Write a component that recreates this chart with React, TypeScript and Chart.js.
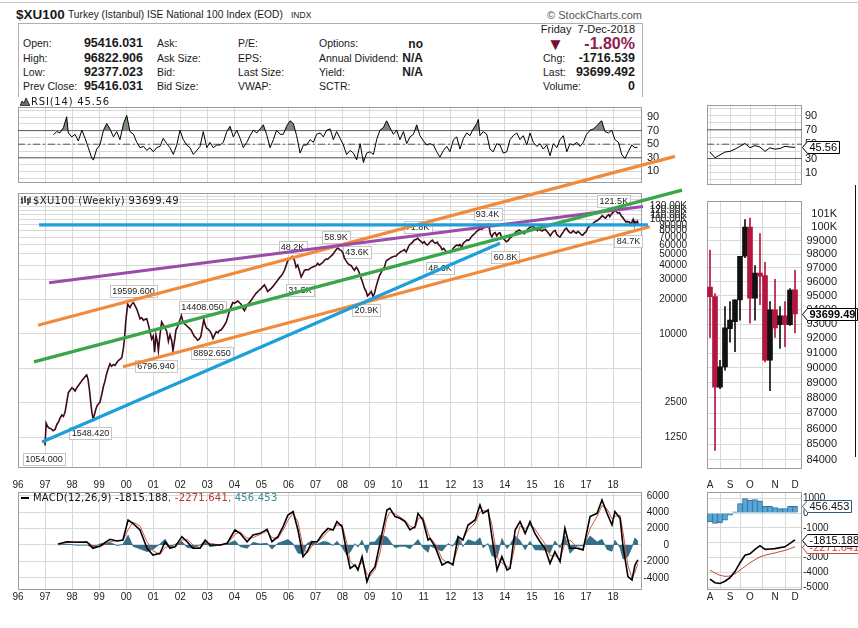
import React, { useEffect, useRef } from "react";
import { Chart, registerables } from "chart.js";

Chart.register(...registerables);

const SANS = "'Liberation Sans', Arial, Helvetica, sans-serif";
const VERD = "'DejaVu Sans', Verdana, sans-serif";
Chart.defaults.font.family = SANS;
Chart.defaults.color = "#222";

// ======================= DATA =======================
const yearTicks = [1996, 1997, 1998, 1999, 2000, 2001, 2002, 2003, 2004, 2005, 2006, 2007, 2008, 2009, 2010, 2011, 2012, 2013, 2014, 2015, 2016, 2017, 2018];
const yearTickLabels = ["96", "97", "98", "99", "00", "01", "02", "03", "04", "05", "06", "07", "08", "09", "10", "11", "12", "13", "14", "15", "16", "17", "18"];

// weekly close [decimal year, close]
const priceSeries = [
  [1997.00, 1054], [1997.04, 1650], [1997.09, 1550], [1997.15, 1500], [1997.22, 1480], [1997.30, 1420], [1997.37, 1460], [1997.44, 1620], [1997.50, 1700], [1997.55, 1820],
  [1997.62, 1950], [1997.68, 1900], [1997.74, 2070], [1997.80, 2500], [1997.86, 3060], [1997.92, 3200], [1997.99, 3370], [1998.05, 3300], [1998.11, 3160], [1998.18, 3400],
  [1998.24, 3550], [1998.30, 3710], [1998.36, 3900], [1998.42, 4050], [1998.48, 4230], [1998.54, 4370], [1998.59, 4000], [1998.64, 3260], [1998.69, 2500], [1998.73, 2070],
  [1998.78, 1800], [1998.82, 1940], [1998.88, 2200], [1998.93, 2370], [1998.98, 2450], [1999.03, 2520], [1999.09, 2900], [1999.16, 3480], [1999.22, 3900], [1999.28, 4510],
  [1999.34, 5000], [1999.40, 5480], [1999.46, 5200], [1999.53, 5400], [1999.59, 5300], [1999.65, 5600], [1999.71, 5840], [1999.78, 6000], [1999.84, 6230], [1999.90, 7570],
  [1999.94, 9200], [1999.98, 12500], [2000.02, 15400], [2000.06, 18200], [2000.10, 17500], [2000.14, 17000], [2000.20, 18200], [2000.27, 18760], [2000.33, 17600], [2000.39, 16470],
  [2000.45, 15000], [2000.51, 13560], [2000.57, 13800], [2000.64, 13130], [2000.70, 13400], [2000.76, 13560], [2000.82, 12000], [2000.88, 10450], [2000.94, 9000], [2001.00, 9600],
  [2001.05, 6900], [2001.10, 9800], [2001.15, 8600], [2001.19, 7100], [2001.25, 9800], [2001.31, 12700], [2001.37, 12000], [2001.44, 11160], [2001.50, 10500], [2001.56, 8600],
  [2001.62, 9800], [2001.68, 8800], [2001.73, 7100], [2001.79, 8800], [2001.84, 10800], [2001.90, 11500], [2001.96, 12700], [2002.04, 14400], [2002.10, 12800], [2002.16, 12200],
  [2002.22, 11900], [2002.28, 11500], [2002.34, 11160], [2002.40, 10800], [2002.46, 10100], [2002.52, 9500], [2002.58, 9200], [2002.64, 8800], [2002.70, 9000], [2002.76, 9500],
  [2002.82, 11500], [2002.87, 13400], [2002.92, 12000], [2002.97, 11200], [2003.03, 11000], [2003.09, 10600], [2003.15, 10000], [2003.21, 9100], [2003.27, 9800], [2003.33, 10450],
  [2003.39, 10200], [2003.45, 10700], [2003.51, 10800], [2003.57, 11300], [2003.63, 11900], [2003.70, 12700], [2003.76, 14200], [2003.82, 15950], [2003.88, 17300], [2003.94, 18760],
  [2004.00, 18500], [2004.07, 19000], [2004.13, 19360], [2004.19, 18700], [2004.25, 18170], [2004.31, 16800], [2004.37, 15950], [2004.43, 17000], [2004.50, 18170], [2004.56, 18900],
  [2004.62, 19600], [2004.68, 20640], [2004.74, 21600], [2004.80, 22600], [2004.87, 23500], [2004.93, 24300], [2004.99, 25000], [2005.05, 25900], [2005.11, 26800], [2005.17, 25200],
  [2005.23, 23520], [2005.29, 24100], [2005.36, 25000], [2005.42, 25900], [2005.48, 27000], [2005.54, 28200], [2005.60, 29500], [2005.66, 30800], [2005.72, 32000], [2005.79, 33600],
  [2005.85, 36000], [2005.91, 39500], [2005.97, 43500], [2006.03, 44800], [2006.10, 46500], [2006.15, 47500], [2006.22, 44000], [2006.28, 38300], [2006.34, 40000], [2006.40, 36000],
  [2006.47, 31500], [2006.53, 33500], [2006.59, 35870], [2006.65, 36500], [2006.72, 36200], [2006.78, 37040], [2006.84, 38000], [2006.90, 38500], [2006.96, 39000], [2007.02, 39500],
  [2007.08, 41500], [2007.14, 40000], [2007.21, 41200], [2007.27, 42100], [2007.33, 44000], [2007.39, 45300], [2007.45, 44800], [2007.51, 46500], [2007.57, 47800], [2007.64, 49550],
  [2007.70, 52000], [2007.76, 54500], [2007.82, 56500], [2007.89, 54500], [2007.95, 53500], [2008.01, 51150], [2008.07, 46000], [2008.13, 43500], [2008.19, 41500], [2008.25, 40200],
  [2008.32, 39500], [2008.38, 37500], [2008.44, 36000], [2008.51, 38300], [2008.57, 36500], [2008.63, 33600], [2008.69, 30500], [2008.75, 27700], [2008.81, 25000], [2008.87, 23520],
  [2008.92, 21500], [2009.00, 22500], [2009.06, 23500], [2009.12, 21350], [2009.18, 22600], [2009.24, 25900], [2009.30, 29000], [2009.37, 32500], [2009.43, 34500], [2009.49, 37040],
  [2009.55, 38500], [2009.61, 43500], [2009.67, 44500], [2009.74, 45500], [2009.80, 46500], [2009.86, 47200], [2009.92, 47800], [2009.98, 48000], [2010.04, 50000], [2010.10, 51150],
  [2010.16, 52500], [2010.22, 53200], [2010.28, 54500], [2010.35, 52000], [2010.41, 56000], [2010.47, 60000], [2010.53, 61500], [2010.59, 63500], [2010.65, 66300], [2010.71, 67000],
  [2010.78, 68500], [2010.84, 66000], [2010.90, 64500], [2010.96, 62100], [2011.02, 64000], [2011.08, 61000], [2011.14, 59800], [2011.20, 62000], [2011.26, 64500], [2011.32, 66000],
  [2011.38, 63000], [2011.44, 62000], [2011.50, 63500], [2011.56, 60000], [2011.62, 58200], [2011.68, 54500], [2011.74, 56000], [2011.80, 53500], [2011.86, 51150], [2011.92, 52000],
  [2011.98, 51500], [2012.04, 53500], [2012.10, 56500], [2012.16, 58200], [2012.22, 60000], [2012.28, 59000], [2012.34, 60500], [2012.40, 57000], [2012.46, 62100], [2012.53, 64000],
  [2012.59, 66300], [2012.65, 65500], [2012.71, 68000], [2012.77, 71000], [2012.83, 73500], [2012.89, 75500], [2012.95, 78500], [2013.01, 80500], [2013.08, 83000], [2013.14, 82000],
  [2013.20, 84000], [2013.26, 86000], [2013.32, 89500], [2013.38, 91000], [2013.42, 86000], [2013.46, 75000], [2013.52, 70500], [2013.58, 75500], [2013.64, 77000], [2013.70, 72000],
  [2013.76, 75500], [2013.82, 76500], [2013.88, 70500], [2013.94, 68500], [2014.00, 66000], [2014.06, 64100], [2014.12, 65500], [2014.18, 68500], [2014.24, 70500], [2014.30, 73500],
  [2014.36, 75500], [2014.42, 78500], [2014.48, 80000], [2014.54, 81000], [2014.60, 78000], [2014.66, 76000], [2014.72, 75000], [2014.78, 79000], [2014.84, 82000], [2014.90, 84500],
  [2014.96, 86000], [2015.02, 87500], [2015.08, 85500], [2015.14, 83000], [2015.20, 80000], [2015.26, 82500], [2015.32, 81000], [2015.38, 79500], [2015.44, 81500], [2015.50, 82000],
  [2015.56, 78500], [2015.62, 75500], [2015.68, 72000], [2015.74, 76000], [2015.80, 79000], [2015.86, 80500], [2015.92, 74000], [2015.98, 71500], [2016.04, 70500], [2016.10, 74500],
  [2016.16, 78000], [2016.22, 82000], [2016.28, 84000], [2016.34, 79500], [2016.40, 77000], [2016.46, 76500], [2016.52, 80000], [2016.58, 77500], [2016.64, 76000], [2016.70, 78500],
  [2016.76, 77000], [2016.82, 74000], [2016.88, 73000], [2016.94, 76000], [2017.00, 78000], [2017.06, 84000], [2017.12, 87500], [2017.18, 89000], [2017.24, 91500], [2017.30, 94500],
  [2017.36, 96500], [2017.42, 98000], [2017.48, 101000], [2017.54, 104000], [2017.60, 108000], [2017.66, 105000], [2017.72, 103000], [2017.78, 107500], [2017.84, 110500], [2017.88, 106000],
  [2017.94, 111500], [2018.00, 115500], [2018.04, 118500], [2018.08, 120500], [2018.12, 117000], [2018.18, 114000], [2018.24, 115000], [2018.30, 108000], [2018.36, 104000], [2018.42, 99000],
  [2018.48, 95000], [2018.52, 96500], [2018.56, 95500], [2018.59, 95600], [2018.61, 94930], [2018.63, 88700], [2018.65, 90060], [2018.67, 92730], [2018.68, 93270], [2018.70, 94700],
  [2018.72, 97840], [2018.74, 100000], [2018.76, 94810], [2018.78, 96610], [2018.80, 96390], [2018.82, 90520], [2018.84, 94000], [2018.86, 92730], [2018.88, 93580], [2018.89, 92960],
  [2018.91, 95390], [2018.93, 93699.49],
];

const priceAxisTicks = [1250, 2500, 5000, 10000, 20000, 30000, 40000, 50000, 60000, 70000, 80000, 90000, 100000, 110000, 120000, 130000, 140000, 150000, 160000];
const priceAxisLabels = ["1250", "2500", "", "10000", "20000", "30000", "40000", "50000", "60000", "70000", "80000", "90000", "100.00K", "110.00K", "120.00K", "130.00K", "", "", ""];

// trend lines drawn on the log chart: [start year, start value] -> [end year, end value]
const trendStartYear = [1996.78, 1996.89, 1996.59, 1997.15, 1996.74, 1999.88];
const trendStartValue = [89900, 1134, 5690, 28000, 11900, 5160];
const trendEndYear = [2019.29, 2013.82, 2020.55, 2019.11, 2020.29, 2019.36];
const trendEndValue = [89900, 62100, 180900, 130000, 357000, 86500];

// swing high / low annotations
const annoTexts = ["1054.000", "1548.420", "19599.600", "14408.050", "8892.650", "6796.940", "48.2K", "58.9K", "43.6K", "31.5K", "20.9K", "71.8K", "48.6K", "93.4K", "60.8K", "121.5K", "84.7K"];
const annoYears = [1996.96, 1998.68, 2000.27, 2002.82, 2003.17, 2001.10, 2006.15, 2007.76, 2008.53, 2006.43, 2008.88, 2010.77, 2011.60, 2013.36, 2014.02, 2018.03, 2018.57];
const annoValues = [1054, 1750, 19600, 14408, 8893, 6797, 48200, 58900, 43600, 31500, 20900, 71800, 48600, 93400, 60800, 121500, 84700];
const annoKinds = ["low", "low", "high", "high", "low", "low", "high", "high", "high", "low", "low", "high", "low", "high", "low", "high", "low"];

// RSI(14) [decimal year, value]
const rsiSeries = [
  [1997.31, 63.8], [1997.43, 68.6], [1997.55, 66.6], [1997.68, 74.5], [1997.80, 90.3], [1997.86, 66.6], [1997.99, 60.7], [1998.11, 64.6], [1998.23, 54.7], [1998.36, 70.6],
  [1998.48, 58.7], [1998.60, 44.9], [1998.73, 29.0], [1998.79, 27.0], [1998.91, 42.9], [1999.03, 48.8], [1999.16, 70.6], [1999.28, 80.4], [1999.40, 72.5], [1999.53, 60.7],
  [1999.65, 68.6], [1999.77, 56.7], [1999.90, 80.4], [2000.02, 92.3], [2000.14, 68.6], [2000.27, 64.6], [2000.39, 52.8], [2000.51, 44.9], [2000.64, 46.8], [2000.76, 40.9],
  [2000.88, 44.9], [2001.00, 38.9], [2001.13, 44.9], [2001.25, 46.8], [2001.37, 58.7], [2001.50, 50.8], [2001.62, 44.9], [2001.74, 35.0], [2001.87, 48.8], [2001.99, 70.6],
  [2002.11, 56.7], [2002.24, 48.8], [2002.36, 44.9], [2002.48, 35.0], [2002.61, 40.9], [2002.73, 46.8], [2002.85, 68.6], [2002.98, 44.9], [2003.10, 52.8], [2003.22, 44.9],
  [2003.35, 48.8], [2003.47, 48.8], [2003.59, 52.8], [2003.72, 68.6], [2003.84, 76.5], [2003.96, 60.7], [2004.09, 70.6], [2004.21, 58.7], [2004.33, 44.9], [2004.46, 52.8],
  [2004.58, 62.6], [2004.70, 70.6], [2004.83, 66.6], [2004.95, 72.5], [2005.07, 78.5], [2005.19, 64.6], [2005.32, 44.9], [2005.44, 56.7], [2005.56, 70.6], [2005.69, 64.6],
  [2005.81, 64.6], [2005.93, 76.5], [2006.06, 84.4], [2006.18, 80.4], [2006.30, 62.6], [2006.43, 37.0], [2006.55, 48.8], [2006.67, 48.8], [2006.80, 56.7], [2006.92, 52.8],
  [2007.04, 64.6], [2007.17, 66.6], [2007.29, 60.7], [2007.41, 70.6], [2007.54, 72.5], [2007.66, 56.7], [2007.78, 68.6], [2007.91, 58.7], [2008.03, 48.8], [2008.15, 35.0],
  [2008.28, 40.9], [2008.40, 37.0], [2008.52, 27.0], [2008.65, 50.8], [2008.77, 23.1], [2008.89, 37.0], [2009.01, 38.9], [2009.14, 35.0], [2009.26, 56.7], [2009.38, 70.6],
  [2009.51, 74.5], [2009.63, 84.4], [2009.75, 74.5], [2009.88, 64.6], [2010.00, 70.6], [2010.12, 56.7], [2010.25, 68.6], [2010.37, 50.8], [2010.49, 60.7], [2010.62, 64.6],
  [2010.74, 78.5], [2010.86, 62.6], [2010.99, 54.7], [2011.11, 48.8], [2011.23, 50.8], [2011.36, 48.8], [2011.48, 38.9], [2011.60, 31.0], [2011.73, 40.9], [2011.85, 46.8],
  [2011.97, 38.9], [2012.10, 56.7], [2012.22, 60.7], [2012.34, 42.9], [2012.47, 58.7], [2012.59, 66.6], [2012.71, 62.6], [2012.83, 72.5], [2012.96, 80.4], [2013.02, 86.4],
  [2013.08, 62.6], [2013.20, 68.6], [2013.33, 64.6], [2013.45, 42.9], [2013.57, 38.9], [2013.70, 50.8], [2013.82, 48.8], [2013.94, 37.0], [2014.07, 38.9], [2014.19, 56.7],
  [2014.31, 62.6], [2014.44, 66.6], [2014.56, 56.7], [2014.68, 62.6], [2014.81, 48.8], [2014.93, 66.6], [2015.05, 52.8], [2015.18, 46.8], [2015.30, 50.8], [2015.42, 42.9],
  [2015.55, 48.8], [2015.67, 33.0], [2015.79, 50.8], [2015.92, 44.9], [2016.04, 56.7], [2016.16, 62.6], [2016.29, 38.9], [2016.41, 50.8], [2016.53, 48.8], [2016.66, 52.8],
  [2016.78, 46.8], [2016.90, 52.8], [2017.02, 64.6], [2017.15, 70.6], [2017.27, 72.5], [2017.39, 76.5], [2017.52, 82.5], [2017.58, 84.4], [2017.70, 68.6], [2017.83, 66.6],
  [2017.95, 70.6], [2018.07, 56.7], [2018.20, 52.8], [2018.32, 35.0], [2018.44, 29.0], [2018.56, 38.9], [2018.69, 48.8], [2018.81, 44.9], [2018.90, 45.56],
];
const rsiTicks = [0, 10, 20, 30, 40, 50, 60, 70, 80, 90, 100];
const rsiTickLabels = ["", "10", "", "30", "", "50", "", "70", "", "90", ""];
const rsiLevels = [70, 50, 30];

// MACD(12,26,9) [decimal year, macd, signal, histogram]
const macdSeries = [
  [1997.48, 120, 100, 20], [1997.81, 400, 300, 100], [1998.18, 330, 350, -20], [1998.55, 370, 380, -10], [1998.77, -400, -100, -300],
  [1999.03, -120, -250, 130], [1999.40, 690, 400, 290], [1999.66, 490, 550, -60], [1999.88, 610, 550, 60], [2000.07, 3050, 1850, 1200],
  [2000.25, 2640, 2800, -160], [2000.51, 1830, 2300, -470], [2000.77, -400, 400, -800], [2000.99, -1220, -700, -520], [2001.25, -1020, -1150, 130],
  [2001.44, 400, -300, 700], [2001.62, -400, -100, -300], [2001.81, -200, -300, 100], [2002.06, 1020, 600, 420], [2002.25, 400, 700, -300],
  [2002.47, -400, 0, -400], [2002.73, -400, -400, 0], [2002.92, 610, 200, 410], [2003.10, 0, 200, -200], [2003.47, 0, 0, 0],
  [2003.73, 200, 100, 100], [2004.02, 1830, 1300, 530], [2004.21, 1420, 1600, -180], [2004.47, 400, 800, -400], [2004.69, 1220, 900, 320],
  [2004.95, 1420, 1300, 120], [2005.21, 1910, 1700, 210], [2005.39, 400, 900, -500], [2005.61, 1020, 800, 220], [2005.80, 2240, 1800, 440],
  [2005.98, 3660, 3000, 660], [2006.17, 4070, 3900, 170], [2006.35, 1830, 2800, -970], [2006.54, -1420, -300, -1120], [2006.69, -810, -1000, 190],
  [2006.87, 400, -100, 500], [2007.06, 400, 300, 100], [2007.28, 1420, 1000, 420], [2007.46, 2030, 1700, 330], [2007.65, 1830, 1900, -70],
  [2007.79, 2850, 2400, 450], [2007.98, 2240, 2500, -260], [2008.16, -1020, 200, -1220], [2008.28, -2850, -2000, -850], [2008.46, -2440, -2600, 160],
  [2008.57, -3050, -2800, -250], [2008.72, -1420, -2000, 580], [2008.90, -4470, -3500, -970], [2009.01, -3460, -3800, 340], [2009.20, -2640, -3000, 360],
  [2009.38, 200, -1000, 1200], [2009.64, 4270, 3300, 970], [2009.75, 4470, 4000, 470], [2009.94, 3460, 3800, -340], [2010.12, 3250, 3400, -150],
  [2010.31, 2850, 3000, -150], [2010.49, 1830, 2300, -470], [2010.68, 2240, 2000, 240], [2010.79, 3860, 3200, 660], [2010.97, 3050, 3400, -350],
  [2011.16, 610, 1500, -890], [2011.23, 810, 900, -90], [2011.42, -200, 200, -400], [2011.68, -2440, -1700, -740], [2011.90, -2030, -2200, 170],
  [2012.08, -2440, -2300, -140], [2012.27, 1020, -200, 1000], [2012.45, 610, 800, -190], [2012.64, 2440, 1800, 640], [2012.90, 3050, 2700, 350],
  [2013.08, 4880, 4000, 880], [2013.19, 3860, 4200, -340], [2013.38, 4270, 4100, 170], [2013.52, 1020, 2500, -1300], [2013.71, -3050, -1500, -1550],
  [2013.89, -1420, -2200, 780], [2014.08, -3050, -2600, -450], [2014.19, -2850, -2900, 50], [2014.38, 1830, 0, 1100], [2014.56, 2850, 2300, 550],
  [2014.75, 1420, 2000, -580], [2014.93, 2850, 2400, 450], [2015.11, 1420, 2000, -580], [2015.30, 400, 1000, -600], [2015.48, -400, 200, -600],
  [2015.67, -2240, -1300, -940], [2015.85, -810, -1300, 490], [2016.04, -2030, -1700, -330], [2016.22, 2030, 200, 1100], [2016.41, -400, 600, -1000],
  [2016.67, -400, -300, -100], [2016.89, -610, -500, -110], [2017.15, 3460, 2000, 1100], [2017.41, 3860, 3500, 360], [2017.59, 5490, 4800, 690],
  [2017.78, 3860, 4400, -540], [2017.96, 2440, 3200, -760], [2018.07, 4070, 3500, 570], [2018.26, 3250, 3600, -350], [2018.37, -200, 1500, -1700],
  [2018.55, -3860, -2500, -1400], [2018.70, -4270, -4000, -270], [2018.81, -2440, -3300, 860], [2018.92, -1815.188, -2271.641, 456.453],
];
const macdTicks = [-4000, -2000, 0, 2000, 4000, 6000];

// last 18 weeks (side panels)
const sideWeeks = ["10-Aug", "17-Aug", "24-Aug", "31-Aug", "7-Sep", "14-Sep", "21-Sep", "28-Sep", "5-Oct", "12-Oct", "19-Oct", "26-Oct", "2-Nov", "9-Nov", "16-Nov", "23-Nov", "30-Nov", "7-Dec"];
const sideOpen = [95600, 94930, 88700, 90060, 92670, 93170, 94700, 97840, 100000, 94810, 96610, 96430, 90520, 94000, 92960, 93580, 92960, 95416.031];
const sideHigh = [98300, 95150, 90500, 94230, 94580, 94700, 97840, 100560, 100670, 97160, 99520, 97390, 94580, 96170, 94230, 94580, 95500, 96822.906];
const sideLow = [92070, 84600, 88600, 89850, 91740, 91100, 93270, 97730, 93060, 93270, 94350, 90400, 88480, 92070, 91320, 91430, 92900, 92377.023];
const sideClose = [94930, 88700, 90060, 92730, 93270, 94700, 97840, 100000, 94810, 96610, 96390, 90520, 94000, 92730, 93580, 92960, 95390, 93699.492];
const sideMonthIdx = [0, 4, 8, 13, 17];
const sideMonthLabels = ["A", "S", "O", "N", "D"];
const sidePriceTicks = [84000, 85000, 86000, 87000, 88000, 89000, 90000, 91000, 92000, 93000, 94000, 95000, 96000, 97000, 98000, 99000, 100000, 101000];
const sideRsi = [39, 31, 35, 39, 40, 43, 47, 51, 45, 48, 46, 40, 45, 43, 44, 47, 46, 45.56];
const sideMacd = [-4450, -4700, -4750, -4600, -4350, -3950, -3350, -2850, -2750, -2450, -2200, -2450, -2420, -2400, -2330, -2280, -2050, -1815.188];
const sideSignal = [-3850, -4050, -4200, -4270, -4250, -4100, -3850, -3600, -3350, -3150, -2950, -2850, -2760, -2690, -2600, -2520, -2400, -2271.641];
const sideHist = [-600, -700, -660, -480, -150, 80, 640, 980, 870, 910, 820, 460, 460, 370, 300, 300, 460, 456.453];
const sideMacdTicks = [-5000, -4000, -3000, -2000, -1000, 0, 1000];

// ======================= STYLE / LAYOUT =======================
const GRID = "#d8d8d8";
const FRAME = "#9c9c9c";
const X_MIN = 1996;
const X_MAX = 2019.07;
const SIDE_MIN = -0.6;
const SIDE_MAX = 18.4;
const TREND_COLORS = ["#1f9fd8", "#1f9fd8", "#3aa64a", "#9b4ca8", "#f08a3c", "#f08a3c"];
const RSI_FILL = "#7b8c78";
const RED = "#b3163e";

const framePlugin = {
  id: "frame",
  beforeDatasetsDraw(chart: any) {
    const { ctx, chartArea: a } = chart;
    ctx.save();
    ctx.strokeStyle = FRAME;
    ctx.lineWidth = 1;
    const l = Math.round(a.left) + 0.5;
    const t = Math.round(a.top) + 0.5;
    const r = Math.round(a.right) - 0.5;
    const b = Math.round(a.bottom) - 0.5;
    ctx.strokeRect(l, t, r - l, b - t);
    ctx.restore();
  },
};

function tagPlugin(items: any[]) {
  return {
    id: "tags",
    afterDraw(chart: any) {
      const { ctx, chartArea: a, scales } = chart;
      items.forEach((it) => {
        const size = it.size || 11;
        const y = Math.round(scales.y.getPixelForValue(it.value)) + 0.5;
        const x = Math.round(a.right) + 0.5;
        ctx.save();
        ctx.font = `${it.bold ? "bold " : ""}${size}px ${SANS}`;
        const w = Math.round(ctx.measureText(it.text).width + 4);
        const h = size + 1;
        ctx.beginPath();
        ctx.moveTo(x, y);
        ctx.lineTo(x + 5, y - h / 2);
        ctx.lineTo(x + 5 + w, y - h / 2);
        ctx.lineTo(x + 5 + w, y + h / 2);
        ctx.lineTo(x + 5, y + h / 2);
        ctx.closePath();
        ctx.fillStyle = "#fff";
        ctx.fill();
        ctx.strokeStyle = it.border;
        ctx.lineWidth = 1;
        ctx.stroke();
        ctx.fillStyle = it.color;
        ctx.textAlign = "left";
        ctx.textBaseline = "middle";
        ctx.fillText(it.text, x + 7, y + 0.5);
        ctx.restore();
      });
    },
  };
}

const annoPlugin = {
  id: "annos",
  beforeDatasetsDraw(chart: any) {
    const { ctx, scales } = chart;
    ctx.save();
    ctx.font = `9px ${SANS}`;
    ctx.textAlign = "center";
    ctx.textBaseline = "middle";
    annoTexts.forEach((t, i) => {
      const cx = scales.x.getPixelForValue(annoYears[i]);
      const cy = scales.y.getPixelForValue(annoValues[i]) + (annoKinds[i] === "high" ? -9 : 13);
      const w = Math.round(ctx.measureText(t).width + 4);
      const h = 12;
      const l = Math.round(cx - w / 2) + 0.5;
      const tp = Math.round(cy - h / 2) + 0.5;
      ctx.fillStyle = "#fff";
      ctx.fillRect(l, tp, w, h);
      ctx.strokeStyle = "#c6c6c6";
      ctx.lineWidth = 1;
      ctx.strokeRect(l, tp, w, h);
      ctx.fillStyle = "#1a1a1a";
      ctx.fillText(t, cx, cy + 0.5);
    });
    ctx.restore();
  },
};

function baseOptions(padding: any) {
  return {
    responsive: false,
    maintainAspectRatio: false,
    animation: false,
    devicePixelRatio: 1,
    events: [],
    layout: { padding },
    plugins: { legend: { display: false }, tooltip: { enabled: false } },
  };
}

function yearAxis(showLabels: boolean, position: string, pad: number, drawGrid: boolean) {
  return {
    type: "linear",
    position,
    min: X_MIN,
    max: X_MAX,
    offset: false,
    afterBuildTicks: (s: any) => {
      s.ticks = yearTicks.map((v) => ({ value: v }));
    },
    grid: { display: drawGrid, color: GRID, drawTicks: false },
    border: { display: false },
    ticks: {
      display: showLabels,
      autoSkip: false,
      maxRotation: 0,
      padding: pad,
      font: { family: SANS, size: 10 },
      color: "#222",
      callback: (v: any) => yearTickLabels[yearTicks.indexOf(v)],
    },
    afterFit: (s: any) => {
      s.height = showLabels ? 14 : 2;
    },
  };
}

function sideAxis(showLabels: boolean, position: string, pad: number, drawGrid: boolean) {
  return {
    type: "linear",
    position,
    min: SIDE_MIN,
    max: SIDE_MAX,
    offset: false,
    afterBuildTicks: (s: any) => {
      s.ticks = sideMonthIdx.map((v) => ({ value: v }));
    },
    grid: { display: drawGrid, color: GRID, drawTicks: false },
    border: { display: false },
    ticks: {
      display: showLabels,
      autoSkip: false,
      maxRotation: 0,
      padding: pad,
      font: { family: SANS, size: 10 },
      color: "#222",
      callback: (v: any) => sideMonthLabels[sideMonthIdx.indexOf(v)],
    },
    afterFit: (s: any) => {
      s.height = showLabels ? 14 : 2;
    },
  };
}

function rightAxis(opts: any) {
  const { type = "linear", min, max, ticks, labels, width, pad, far, size = 10, grid = true } = opts;
  return {
    type,
    position: "right",
    min,
    max,
    afterBuildTicks: (s: any) => {
      s.ticks = ticks.map((v: number) => ({ value: v }));
    },
    grid: { display: grid, color: GRID, drawTicks: false },
    border: { display: false },
    ticks: {
      autoSkip: false,
      padding: pad,
      crossAlign: far ? "far" : "near",
      font: { family: SANS, size },
      color: "#1a1a1a",
      callback: (v: any) => labels[ticks.indexOf(v)],
    },
    afterFit: (s: any) => {
      s.width = width;
    },
  };
}

function levelLines(xmin: number, xmax: number) {
  return rsiLevels.map((lv) => ({
    type: "line",
    data: [{ x: xmin, y: lv }, { x: xmax, y: lv }],
    borderColor: "#5a5a5a",
    borderWidth: 1,
    borderDash: lv === 50 ? [7, 3, 2, 3] : [],
    pointRadius: 0,
  }));
}

function rsiDatasets(points: any[], xmin: number, xmax: number) {
  return [
    {
      data: points,
      borderColor: "#000",
      borderWidth: 1,
      pointRadius: 0,
      fill: { target: { value: 70 }, above: RSI_FILL, below: "rgba(0,0,0,0)" },
    },
    {
      data: points,
      borderWidth: 0,
      borderColor: "rgba(0,0,0,0)",
      pointRadius: 0,
      fill: { target: { value: 30 }, above: "rgba(0,0,0,0)", below: RSI_FILL },
    },
    ...levelLines(xmin, xmax),
  ];
}

// ---------- chart configs ----------
function makeRsiMain() {
  const pts = rsiSeries.map((p) => ({ x: p[0], y: p[1] }));
  return {
    type: "line",
    data: { datasets: rsiDatasets(pts, X_MIN, X_MAX) },
    options: {
      ...baseOptions({ left: 18, top: 2, right: 0, bottom: 0 }),
      scales: {
        x: yearAxis(false, "bottom", 0, true),
        y: rightAxis({ min: -7.6, max: 105.3, ticks: rsiTicks, labels: rsiTickLabels, width: 58, pad: 5, far: false, size: 11 }),
      },
    },
    plugins: [framePlugin],
  };
}

function makePriceMain() {
  const trends = trendStartYear.map((sy, i) => ({
    data: [{ x: sy, y: trendStartValue[i] }, { x: trendEndYear[i], y: trendEndValue[i] }],
    borderColor: TREND_COLORS[i],
    borderWidth: 3.2,
    pointRadius: 0,
    clip: false,
  }));
  const price = {
    data: priceSeries.map((p) => ({ x: p[0], y: p[1] })),
    borderColor: "#3e0b18",
    borderWidth: 1.6,
    pointRadius: 0,
  };
  return {
    type: "line",
    data: { datasets: [...trends, price] },
    options: {
      ...baseOptions({ left: 18, top: 53, right: 3, bottom: 0 }),
      scales: {
        x: yearAxis(false, "bottom", 0, true),
        y: rightAxis({ type: "logarithmic", min: 671, max: 170700, ticks: priceAxisTicks, labels: priceAxisLabels, width: 45, pad: 6, far: true, size: 10 }),
      },
    },
    plugins: [framePlugin, annoPlugin],
  };
}

function makeMacdMain() {
  const pick = (k: number) => macdSeries.map((p) => ({ x: p[0], y: p[k] }));
  return {
    type: "line",
    data: {
      datasets: [
        { data: pick(1), borderColor: "#000", borderWidth: 1.6, pointRadius: 0 },
        { data: pick(2), borderColor: "#d0554a", borderWidth: 1, pointRadius: 0 },
        { data: pick(3), borderColor: "#2c6c84", backgroundColor: "#336f88", borderWidth: 0.8, pointRadius: 0, fill: "origin" },
      ],
    },
    options: {
      ...baseOptions({ left: 18, top: 0, right: 3, bottom: 0 }),
      scales: {
        x: yearAxis(true, "bottom", 1.5, true),
        x2: yearAxis(true, "top", 1, false),
        y: rightAxis({ min: -5488, max: 6463, ticks: macdTicks, labels: macdTicks.map(String), width: 27, pad: 2, far: true, size: 10 }),
      },
    },
    plugins: [framePlugin],
  };
}

function makeRsiSide() {
  const pts = sideRsi.map((v, i) => ({ x: i, y: v }));
  const last = sideRsi[sideRsi.length - 1];
  return {
    type: "line",
    data: { datasets: rsiDatasets(pts, SIDE_MIN, SIDE_MAX) },
    options: {
      ...baseOptions({ left: 17, top: 2, right: 0, bottom: 0 }),
      scales: {
        x: sideAxis(false, "bottom", 0, true),
        y: rightAxis({ min: -7.6, max: 105.3, ticks: rsiTicks, labels: rsiTickLabels, width: 56, pad: 3, far: false, size: 11 }),
      },
    },
    plugins: [framePlugin, tagPlugin([{ value: last, text: last.toFixed(2), border: "#000", color: "#000", size: 11 }])],
  };
}

function makePriceSide() {
  const colors = sideClose.map((c, i) => (c >= sideOpen[i] ? "#111" : RED));
  const bodies = sideOpen.map((o, i) => ({ x: i, y: [Math.min(o, sideClose[i]), Math.max(o, sideClose[i])] }));
  const wicks = sideLow.map((l, i) => ({ x: i, y: [l, sideHigh[i]] }));
  const last = sideClose[sideClose.length - 1];
  return {
    type: "bar",
    data: {
      labels: sideWeeks,
      datasets: [
        { data: bodies, backgroundColor: colors, barThickness: 5, grouped: false },
        { data: wicks, backgroundColor: colors, barThickness: 1, grouped: false },
      ],
    },
    options: {
      ...baseOptions({ left: 17, top: 3, right: 21, bottom: 0 }),
      scales: {
        x: sideAxis(false, "bottom", 0, true),
        y: rightAxis({
          type: "logarithmic",
          min: 83409,
          max: 102004,
          ticks: sidePriceTicks,
          labels: sidePriceTicks.map((v) => (v >= 100000 ? `${v / 1000}K` : String(v))),
          width: 35,
          pad: 4,
          far: true,
          size: 11,
        }),
      },
    },
    plugins: [framePlugin, tagPlugin([{ value: last, text: last.toFixed(2), border: "#000", color: "#000", bold: true, size: 11 }])],
  };
}

function makeMacdSide() {
  const n = sideMacd.length - 1;
  return {
    type: "bar",
    data: {
      labels: sideWeeks,
      datasets: [
        { type: "line", data: sideMacd.map((v, i) => ({ x: i, y: v })), borderColor: "#000", borderWidth: 1.6, pointRadius: 0 },
        { type: "line", data: sideSignal.map((v, i) => ({ x: i, y: v })), borderColor: "#c8473d", borderWidth: 1, pointRadius: 0 },
        { type: "bar", data: sideHist.map((v, i) => ({ x: i, y: v })), backgroundColor: "#58a7d6", borderColor: "#2a6f9e", borderWidth: 1, barThickness: 5, grouped: false },
      ],
    },
    options: {
      ...baseOptions({ left: 17, top: 0, right: 0, bottom: 0 }),
      scales: {
        x: sideAxis(true, "bottom", 1.5, true),
        x2: sideAxis(true, "top", 1, false),
        y: rightAxis({ min: -5190, max: 1420, ticks: sideMacdTicks, labels: sideMacdTicks.map(String), width: 56, pad: 1, far: false, size: 10 }),
      },
    },
    plugins: [
      framePlugin,
      tagPlugin([
        { value: sideHist[n], text: sideHist[n].toFixed(3), border: "#2a5f7e", color: "#111", size: 11 },
        { value: sideSignal[n], text: sideSignal[n].toFixed(3), border: "#c8473d", color: "#c8473d", size: 11 },
        { value: sideMacd[n], text: sideMacd[n].toFixed(3), border: "#000", color: "#000", size: 11 },
      ]),
    ],
  };
}

// ---------- components ----------
function ChartBox({ left, top, width, height, make }: any) {
  const ref = useRef<HTMLCanvasElement>(null);
  useEffect(() => {
    const chart = new Chart(ref.current as any, make());
    return () => chart.destroy();
  }, []);
  return <canvas ref={ref} width={width} height={height} style={{ position: "absolute", left, top, width, height }} />;
}

function Txt({ x, y, size = 11, bold = false, color = "#1a1a1a", align = "left", family = SANS, ls = 0, children }: any) {
  const style: any = {
    position: "absolute",
    top: y - size / 2,
    fontFamily: family,
    fontSize: size,
    lineHeight: `${size}px`,
    fontWeight: bold ? "bold" : "normal",
    color,
    whiteSpace: "nowrap",
    letterSpacing: ls,
  };
  if (align === "right") style.right = 858 - x;
  else style.left = x;
  return <div style={style}>{children}</div>;
}

function Line({ x, y, w, h, c = "#b0b0b0" }: any) {
  return <div style={{ position: "absolute", left: x, top: y, width: w, height: h, background: c }} />;
}

export default function App() {
  const rowY = [43.5, 58, 72, 86.5];
  const col1 = ["Open:", "High:", "Low:", "Prev Close:"];
  const col1v = ["95416.031", "96822.906", "92377.023", "95416.031"];
  const col2 = ["Ask:", "Ask Size:", "Bid:", "Bid Size:"];
  const col3 = ["P/E:", "EPS:", "Last Size:", "VWAP:"];
  const col4 = ["Options:", "Annual Dividend:", "Yield:", "SCTR:"];
  const col4v = ["no", "N/A", "N/A", ""];
  return (
    <div style={{ position: "fixed", left: 0, top: 0, width: 858, height: 628, background: "#fff", overflow: "hidden" }}>
      <Line x={0} y={2} w={858} h={1} c="#c8c8c8" />
      {/* header */}
      <Txt x={16} y={15} size={13.5} bold>$XU100</Txt>
      <Txt x={68} y={15.5} size={10.2}>Turkey (Istanbul) ISE National 100 Index (EOD)</Txt>
      <Txt x={291} y={15.5} size={8.5}>INDX</Txt>
      <Txt x={642} y={15} size={11} align="right" color="#555">© StockCharts.com</Txt>
      <Line x={18} y={23} w={625} h={1} />
      <Line x={18} y={23} w={1} h={74} />
      <Line x={642} y={23} w={1} h={74} />
      {rowY.map((y, i) => (
        <React.Fragment key={i}>
          <Txt x={23} y={y} size={10.5}>{col1[i]}</Txt>
          <Txt x={143} y={y} size={12.5} bold align="right">{col1v[i]}</Txt>
          <Txt x={157} y={y} size={10.5}>{col2[i]}</Txt>
          <Txt x={238} y={y} size={10.5}>{col3[i]}</Txt>
          <Txt x={319} y={y} size={10.5}>{col4[i]}</Txt>
          <Txt x={423} y={y} size={12} bold align="right">{col4v[i]}</Txt>
        </React.Fragment>
      ))}
      <Txt x={635} y={29.5} size={11} align="right">Friday&nbsp;&nbsp;7-Dec-2018</Txt>
      <Txt x={547} y={44} size={17} color="#7a0d2e">▼</Txt>
      <Txt x={635} y={43.5} size={16} bold align="right" color="#8b2150">-1.80%</Txt>
      <Txt x={543} y={58} size={10.5}>Chg:</Txt>
      <Txt x={635} y={58} size={12.5} bold align="right">-1716.539</Txt>
      <Txt x={543} y={72} size={10.5}>Last:</Txt>
      <Txt x={635} y={72} size={12.5} bold align="right">93699.492</Txt>
      <Txt x={543} y={86.5} size={10.5}>Volume:</Txt>
      <Txt x={635} y={86.5} size={12.5} bold align="right">0</Txt>

      {/* charts */}
      <ChartBox left={0} top={95} width={700} height={100} make={makeRsiMain} />
      <ChartBox left={690} top={95} width={168} height={100} make={makeRsiSide} />
      <ChartBox left={690} top={190} width={168} height={290} make={makePriceSide} />
      <ChartBox left={0} top={478} width={672} height={126} make={makeMacdMain} />
      <ChartBox left={690} top={478} width={168} height={126} make={makeMacdSide} />
      <ChartBox left={0} top={140} width={690} height={340} make={makePriceMain} />

      {/* panel legends */}
      <svg style={{ position: "absolute", left: 20, top: 97 }} width={10} height={9}>
        <polygon points="0,9 2,4 4,6 6,1 8,5 10,9" fill="#5f6f5c" stroke="#111" strokeWidth={0.8} />
      </svg>
      <Txt x={31} y={102} size={10} family={VERD} ls={0.8}>RSI(14) 45.56</Txt>
      <svg style={{ position: "absolute", left: 21, top: 196 }} width={10} height={9}>
        <path d="M1 1 V8 M0 3 H1 M1 6 H2 M4 0 V7 M3 2 H4 M4 5 H5 M7 2 V9 M6 4 H7 M7 7 H8 M9 1 V7" stroke="#111" strokeWidth={1.2} fill="none" />
      </svg>
      <Txt x={33} y={200.5} size={10} family={VERD} ls={0.35}>$XU100 (Weekly) 93699.49</Txt>
      <Line x={21} y={497} w={8} h={2} c="#000" />
      <div style={{ position: "absolute", left: 33, top: 493, fontFamily: VERD, fontSize: 10, lineHeight: "10px", whiteSpace: "nowrap", letterSpacing: 0.2 }}>
        <span style={{ color: "#111" }}>MACD(12,26,9) -1815.188</span>
        <span style={{ color: "#b8352c" }}>, -2271.641</span>
        <span style={{ color: "#3a8797" }}>, 456.453</span>
      </div>
      <Line x={855} y={185} w={1} h={272} c="#111" />
    </div>
  );
}
